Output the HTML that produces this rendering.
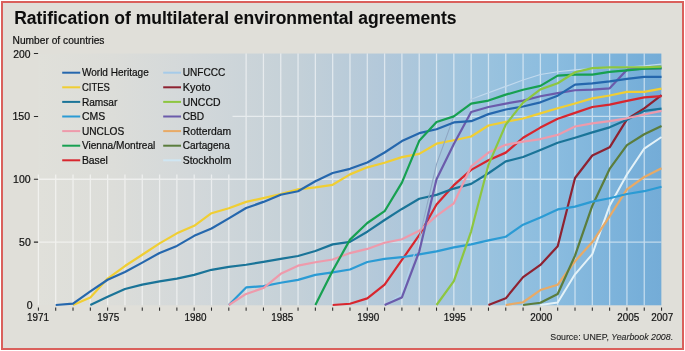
<!DOCTYPE html>
<html><head><meta charset="utf-8"><style>
html,body{margin:0;padding:0;background:#fff;}
svg{display:block;}
text{font-family:"Liberation Sans",Arial,sans-serif;fill:#111;stroke:#111;stroke-width:0.22px;}
</style></head><body>
<svg width="685" height="351" viewBox="0 0 685 351">
<defs>
<linearGradient id="bg" gradientUnits="userSpaceOnUse" x1="38.4" y1="0" x2="661.4" y2="0">
<stop offset="0" stop-color="#e0e0da"/>
<stop offset="0.12" stop-color="#dcddd9"/>
<stop offset="0.243" stop-color="#d3d8da"/>
<stop offset="0.404" stop-color="#c5d1d8"/>
<stop offset="0.557" stop-color="#b2c8da"/>
<stop offset="0.693" stop-color="#9ec4de"/>
<stop offset="0.829" stop-color="#8abcdf"/>
<stop offset="0.966" stop-color="#77afd9"/>
<stop offset="1" stop-color="#74acd7"/>
</linearGradient>
<linearGradient id="ug" gradientUnits="userSpaceOnUse" x1="380" y1="0" x2="480" y2="0">
<stop offset="0.3" stop-color="#b2d2ee"/>
<stop offset="0.48" stop-color="#8ea6c2"/>
<stop offset="0.68" stop-color="#8ea6c2"/>
<stop offset="1" stop-color="#c2daee"/>
</linearGradient>
</defs>
<rect x="0" y="0" width="685" height="351" fill="#fff"/>
<rect x="2" y="2" width="681" height="347" fill="#e0dfd9" stroke="#da605c" stroke-width="2"/>

<rect x="38.40" y="53.54" width="622.96" height="251.76" fill="url(#bg)"/>
<path d="M38.40 174.50V305.30M55.71 174.50V305.30M73.02 174.50V305.30M90.33 174.50V305.30M107.64 174.50V305.30M124.95 174.50V305.30M142.26 174.50V305.30M159.57 174.50V305.30M176.88 174.50V305.30M194.19 174.50V305.30M211.50 174.50V305.30M228.81 174.50V305.30M246.12 53.54V305.30M263.43 53.54V305.30M280.74 53.54V305.30M298.05 53.54V305.30M315.36 53.54V305.30M332.67 53.54V305.30M349.98 53.54V305.30M367.29 53.54V305.30M384.60 53.54V305.30M401.91 53.54V305.30M419.22 53.54V305.30M436.53 53.54V305.30M453.84 53.54V305.30M471.15 53.54V305.30M488.46 53.54V305.30M505.77 53.54V305.30M523.08 53.54V305.30M540.39 53.54V305.30M557.70 53.54V305.30M575.01 53.54V305.30M592.32 53.54V305.30M609.63 53.54V305.30M626.94 53.54V305.30M644.25 53.54V305.30M38.40 242.13H661.36M38.40 179.27H661.36M232.50 116.41H661.36" stroke="#ffffff" stroke-opacity="0.55" stroke-width="1.3" fill="none"/>
<path d="M38.40 307.6V310.8M55.71 307.6V310.8M73.02 307.6V310.8M90.33 307.6V310.8M107.64 307.6V310.8M124.95 307.6V310.8M142.26 307.6V310.8M159.57 307.6V310.8M176.88 307.6V310.8M194.19 307.6V310.8M211.50 307.6V310.8M228.81 307.6V310.8M246.12 307.6V310.8M263.43 307.6V310.8M280.74 307.6V310.8M298.05 307.6V310.8M315.36 307.6V310.8M332.67 307.6V310.8M349.98 307.6V310.8M367.29 307.6V310.8M384.60 307.6V310.8M401.91 307.6V310.8M419.22 307.6V310.8M436.53 307.6V310.8M453.84 307.6V310.8M471.15 307.6V310.8M488.46 307.6V310.8M505.77 307.6V310.8M523.08 307.6V310.8M540.39 307.6V310.8M557.70 307.6V310.8M575.01 307.6V310.8M592.32 307.6V310.8M609.63 307.6V310.8M626.94 307.6V310.8M644.25 307.6V310.8M661.56 307.6V310.8M33.9 242.13H38.1M33.9 179.27H38.1M33.9 116.41H38.1M33.9 53.54H38.1" stroke="#2a2a2a" stroke-width="1.05" fill="none"/>
<polyline points="540.39,305.00 557.70,302.49 575.01,274.32 592.32,254.21 609.63,205.67 626.94,174.49 644.25,148.59 661.56,137.02" fill="none" stroke="#e4f2f8" stroke-width="2.0" stroke-linejoin="round"/>
<polyline points="505.77,305.00 523.08,302.23 540.39,290.04 557.70,284.76 575.01,261.25 592.32,242.01 609.63,216.36 626.94,189.33 644.25,177.01 661.56,168.33" fill="none" stroke="#e8aa66" stroke-width="2.2" stroke-linejoin="round"/>
<polyline points="523.08,305.00 540.39,302.74 557.70,294.06 575.01,255.59 592.32,205.67 609.63,168.96 626.94,145.07 644.25,134.26 661.56,126.09" fill="none" stroke="#5b7d3d" stroke-width="2.2" stroke-linejoin="round"/>
<polyline points="488.46,305.00 505.77,298.34 523.08,277.09 540.39,264.89 557.70,246.28 575.01,178.01 592.32,155.51 609.63,147.33 626.94,119.30 644.25,108.36 661.56,95.03" fill="none" stroke="#8e2231" stroke-width="2.2" stroke-linejoin="round"/>
<polyline points="332.67,305.00 349.98,303.74 367.29,298.34 384.60,284.63 401.91,259.99 419.22,235.22 436.53,204.42 453.84,185.18 471.15,169.84 488.46,160.28 505.77,152.62 523.08,137.78 540.39,127.59 557.70,118.67 575.01,112.88 592.32,106.98 609.63,104.59 626.94,100.81 644.25,97.42 661.56,96.16" fill="none" stroke="#d8262e" stroke-width="2.2" stroke-linejoin="round"/>
<polyline points="73.02,305.00 90.33,297.46 107.64,278.60 124.95,266.02 142.26,254.71 159.57,243.39 176.88,233.33 194.19,225.79 211.50,213.22 228.81,208.19 246.12,201.90 263.43,198.13 280.74,193.98 298.05,189.33 315.36,187.44 332.67,184.80 349.98,174.37 367.29,167.33 384.60,162.80 401.91,157.14 419.22,153.87 436.53,143.69 453.84,140.29 471.15,136.52 488.46,125.46 505.77,121.81 523.08,118.54 540.39,113.39 557.70,108.23 575.01,103.45 592.32,98.43 609.63,95.53 626.94,91.89 644.25,91.89 661.56,88.62" fill="none" stroke="#f0ce33" stroke-width="2.2" stroke-linejoin="round"/>
<polyline points="228.81,305.00 246.12,287.40 263.43,286.14 280.74,282.75 298.05,279.85 315.36,274.82 332.67,272.44 349.98,269.54 367.29,262.00 384.60,258.86 401.91,257.22 419.22,254.46 436.53,251.44 453.84,247.42 471.15,244.40 488.46,240.37 505.77,236.73 523.08,224.66 540.39,217.49 557.70,209.45 575.01,206.68 592.32,201.65 609.63,198.26 626.94,193.98 644.25,191.21 661.56,186.69" fill="none" stroke="#2b9bd4" stroke-width="2.2" stroke-linejoin="round"/>
<polyline points="90.33,305.00 107.64,296.83 124.95,289.03 142.26,284.63 159.57,281.36 176.88,278.60 194.19,274.82 211.50,269.80 228.81,266.90 246.12,264.77 263.43,261.87 280.74,258.86 298.05,255.97 315.36,250.94 332.67,244.40 349.98,241.88 367.29,231.70 384.60,220.01 401.91,208.94 419.22,198.76 436.53,194.86 453.84,188.57 471.15,183.92 488.46,173.23 505.77,161.42 523.08,157.02 540.39,150.10 557.70,142.81 575.01,137.78 592.32,132.37 609.63,127.34 626.94,119.80 644.25,110.87 661.56,108.61" fill="none" stroke="#1a7498" stroke-width="2.2" stroke-linejoin="round"/>
<polyline points="228.81,305.00 246.12,293.94 263.43,288.03 280.74,273.82 298.05,265.65 315.36,262.25 332.67,259.49 349.98,253.07 367.29,248.92 384.60,242.76 401.91,239.24 419.22,230.82 436.53,215.86 453.84,203.28 471.15,166.45 488.46,152.62 505.77,144.82 523.08,141.55 540.39,139.04 557.70,134.89 575.01,126.46 592.32,123.32 609.63,121.06 626.94,118.29 644.25,114.52 661.56,110.87" fill="none" stroke="#ee9aab" stroke-width="2.2" stroke-linejoin="round"/>
<polyline points="384.60,305.00 401.91,294.31 419.22,238.36 436.53,164.18 453.84,116.41 471.15,99.31 488.46,92.77 505.77,86.36 523.08,80.07 540.39,74.54 557.70,71.77 575.01,69.88 592.32,68.63 609.63,67.87 626.94,66.99 644.25,65.86 661.56,64.10" fill="none" stroke="url(#ug)" stroke-width="1.1" stroke-linejoin="round"/>
<polyline points="384.60,305.00 401.91,297.46 419.22,251.56 436.53,179.27 453.84,144.07 471.15,112.00 488.46,106.98 505.77,103.58 523.08,100.56 540.39,96.29 557.70,93.14 575.01,90.25 592.32,89.62 609.63,88.37 626.94,69.63 644.25,68.63 661.56,68.38" fill="none" stroke="#6b5bab" stroke-width="2.2" stroke-linejoin="round"/>
<polyline points="55.71,305.00 73.02,303.62 90.33,291.42 107.64,279.73 124.95,272.06 142.26,262.63 159.57,252.95 176.88,245.91 194.19,235.85 211.50,228.56 228.81,218.37 246.12,208.06 263.43,201.90 280.74,194.73 298.05,191.21 315.36,181.28 332.67,172.98 349.98,168.83 367.29,162.55 384.60,152.49 401.91,141.05 419.22,133.13 436.53,129.23 453.84,122.44 471.15,121.18 488.46,114.14 505.77,109.49 523.08,106.47 540.39,102.32 557.70,95.66 575.01,84.60 592.32,83.46 609.63,81.45 626.94,78.94 644.25,76.80 661.56,76.80" fill="none" stroke="#2567ad" stroke-width="2.2" stroke-linejoin="round"/>
<polyline points="315.36,305.00 332.67,270.80 349.98,239.62 367.29,223.02 384.60,211.21 401.91,182.66 419.22,140.80 436.53,121.94 453.84,116.41 471.15,103.58 488.46,100.56 505.77,94.65 523.08,89.75 540.39,85.85 557.70,75.67 575.01,74.66 592.32,74.54 609.63,71.90 626.94,70.39 644.25,68.63 661.56,68.25" fill="none" stroke="#17a051" stroke-width="2.2" stroke-linejoin="round"/>
<polyline points="436.53,305.00 453.84,281.11 471.15,231.32 488.46,164.81 505.77,124.58 523.08,102.57 540.39,89.37 557.70,83.21 575.01,72.27 592.32,68.12 609.63,67.37 626.94,67.24 644.25,67.24 661.56,66.62" fill="none" stroke="#8dc640" stroke-width="2.2" stroke-linejoin="round"/>
<line x1="62.2" y1="72.70" x2="80.2" y2="72.70" stroke="#2567ad" stroke-width="2"/>
<text x="81.90" y="76.30" font-size="11.1" textLength="66.86" lengthAdjust="spacingAndGlyphs">World Heritage</text>
<line x1="62.2" y1="87.30" x2="80.2" y2="87.30" stroke="#f0ce33" stroke-width="2"/>
<text x="81.90" y="90.90" font-size="11.1" textLength="27.95" lengthAdjust="spacingAndGlyphs">CITES</text>
<line x1="62.2" y1="101.90" x2="80.2" y2="101.90" stroke="#1a7498" stroke-width="2"/>
<text x="81.90" y="105.50" font-size="11.1" textLength="35.50" lengthAdjust="spacingAndGlyphs">Ramsar</text>
<line x1="62.2" y1="116.50" x2="80.2" y2="116.50" stroke="#2b9bd4" stroke-width="2"/>
<text x="81.90" y="120.10" font-size="11.1" textLength="23.23" lengthAdjust="spacingAndGlyphs">CMS</text>
<line x1="62.2" y1="131.10" x2="80.2" y2="131.10" stroke="#ee9aab" stroke-width="2"/>
<text x="81.90" y="134.70" font-size="11.1" textLength="42.30" lengthAdjust="spacingAndGlyphs">UNCLOS</text>
<line x1="62.2" y1="145.70" x2="80.2" y2="145.70" stroke="#17a051" stroke-width="2"/>
<text x="81.90" y="149.30" font-size="11.1" textLength="73.43" lengthAdjust="spacingAndGlyphs">Vienna/Montreal</text>
<line x1="62.2" y1="160.30" x2="80.2" y2="160.30" stroke="#d8262e" stroke-width="2"/>
<text x="81.90" y="163.90" font-size="11.1" textLength="26.05" lengthAdjust="spacingAndGlyphs">Basel</text>
<line x1="163.2" y1="72.70" x2="181.0" y2="72.70" stroke="#a6cbe9" stroke-width="2"/>
<text x="182.70" y="76.30" font-size="11.1" textLength="42.53" lengthAdjust="spacingAndGlyphs">UNFCCC</text>
<line x1="163.2" y1="87.30" x2="181.0" y2="87.30" stroke="#8e2231" stroke-width="2"/>
<text x="182.70" y="90.90" font-size="11.1" textLength="27.83" lengthAdjust="spacingAndGlyphs">Kyoto</text>
<line x1="163.2" y1="101.90" x2="181.0" y2="101.90" stroke="#8dc640" stroke-width="2"/>
<text x="182.70" y="105.50" font-size="11.1" textLength="37.85" lengthAdjust="spacingAndGlyphs">UNCCD</text>
<line x1="163.2" y1="116.50" x2="181.0" y2="116.50" stroke="#6b5bab" stroke-width="2"/>
<text x="182.70" y="120.10" font-size="11.1" textLength="21.52" lengthAdjust="spacingAndGlyphs">CBD</text>
<line x1="163.2" y1="131.10" x2="181.0" y2="131.10" stroke="#e8aa66" stroke-width="2"/>
<text x="182.70" y="134.70" font-size="11.1" textLength="48.38" lengthAdjust="spacingAndGlyphs">Rotterdam</text>
<line x1="163.2" y1="145.70" x2="181.0" y2="145.70" stroke="#5b7d3d" stroke-width="2"/>
<text x="182.70" y="149.30" font-size="11.1" textLength="47.14" lengthAdjust="spacingAndGlyphs">Cartagena</text>
<line x1="163.2" y1="160.30" x2="181.0" y2="160.30" stroke="#cfe6f3" stroke-width="2"/>
<text x="182.70" y="163.90" font-size="11.1" textLength="48.69" lengthAdjust="spacingAndGlyphs">Stockholm</text>
<text x="14.14" y="24.4" font-size="18.3" textLength="442.42" lengthAdjust="spacingAndGlyphs" font-weight="bold" style="fill:#0d0d0d;stroke-width:0.05px">Ratification of multilateral environmental agreements</text>
<text x="12.57" y="43.7" font-size="11.1" textLength="91.87" lengthAdjust="spacingAndGlyphs">Number of countries</text>
<text x="13.30" y="57.5" font-size="11.1" textLength="17.24" lengthAdjust="spacingAndGlyphs">200</text>
<text x="12.44" y="120.4" font-size="11.1" textLength="17.71" lengthAdjust="spacingAndGlyphs">150</text>
<text x="13.05" y="183.4" font-size="11.1" textLength="17.50" lengthAdjust="spacingAndGlyphs">100</text>
<text x="19.05" y="246.4" font-size="11.1" textLength="11.69" lengthAdjust="spacingAndGlyphs">50</text>
<text x="26.70" y="308.8" font-size="11.1" textLength="5.82" lengthAdjust="spacingAndGlyphs">0</text>
<text x="37.95" y="320.6" font-size="11.1" text-anchor="middle" textLength="22.0" lengthAdjust="spacingAndGlyphs">1971</text>
<text x="108.15" y="320.6" font-size="11.1" text-anchor="middle" textLength="22.0" lengthAdjust="spacingAndGlyphs">1975</text>
<text x="195.50" y="320.6" font-size="11.1" text-anchor="middle" textLength="22.0" lengthAdjust="spacingAndGlyphs">1980</text>
<text x="282.25" y="320.6" font-size="11.1" text-anchor="middle" textLength="22.0" lengthAdjust="spacingAndGlyphs">1985</text>
<text x="368.35" y="320.6" font-size="11.1" text-anchor="middle" textLength="22.0" lengthAdjust="spacingAndGlyphs">1990</text>
<text x="454.65" y="320.6" font-size="11.1" text-anchor="middle" textLength="22.0" lengthAdjust="spacingAndGlyphs">1995</text>
<text x="541.15" y="320.6" font-size="11.1" text-anchor="middle" textLength="22.0" lengthAdjust="spacingAndGlyphs">2000</text>
<text x="628.20" y="320.6" font-size="11.1" text-anchor="middle" textLength="22.0" lengthAdjust="spacingAndGlyphs">2005</text>
<text x="662.20" y="320.6" font-size="11.1" text-anchor="middle" textLength="22.0" lengthAdjust="spacingAndGlyphs">2007</text>
<text x="550.28" y="340.3" font-size="9.6" textLength="122.76" lengthAdjust="spacingAndGlyphs" style="fill:#222;stroke:#222;stroke-width:0.1px">Source: UNEP, <tspan font-style="italic">Yearbook 2008</tspan>.</text>
</svg></body></html>
